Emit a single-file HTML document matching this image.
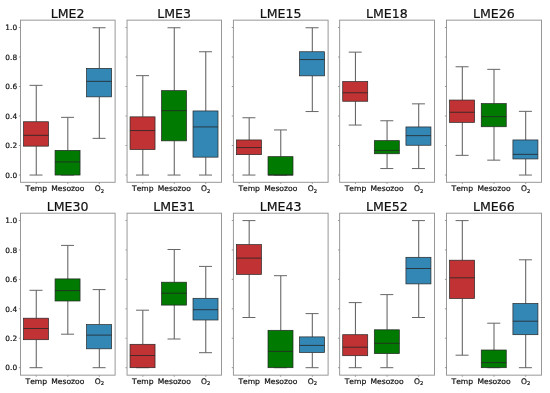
<!DOCTYPE html>
<html lang="en"><head><meta charset="utf-8"><title>LME boxplots</title>
<style>html,body{margin:0;padding:0;background:#fff}svg{display:block}text{font-family:"DejaVu Sans","Liberation Sans",sans-serif;fill:#111;font-kerning:none;stroke:#111;stroke-width:.2px}.t{font-size:12.2px;text-anchor:middle}.l{font-size:7.6px;text-anchor:middle}.y{font-size:7.4px;text-anchor:end}.ax{fill:none;stroke:#939393;stroke-width:.95}.tk{stroke:#555;stroke-width:.6}.w{stroke:#686868;stroke-width:1.1;fill:none}.c{stroke:#666;stroke-width:1;fill:none}.b{stroke:#262626;stroke-width:.7}.m{stroke:#262626;stroke-width:.8}</style></head><body>
<svg width="550" height="393" viewBox="0 0 550 393">
<rect width="550" height="393" fill="#fff"/>
<g>
<path class="w" d="M36.27 85.35V121.75M36.27 146.15V175.05"/><path class="c" d="M29.52 85.35H42.52M29.52 175.05H42.52"/>
<rect class="b" x="23.52" y="121.75" width="25" height="24.4" fill="#c03233"/>
<path class="m" d="M23.52 135.35H48.52"/>
<path class="w" d="M67.8 117.35V150.35M67.8 175.05V175.05"/><path class="c" d="M61.05 117.35H74.05M61.05 175.05H74.05"/>
<rect class="b" x="55.05" y="150.35" width="25" height="24.7" fill="#007a00"/>
<path class="m" d="M55.05 161.95H80.05"/>
<path class="w" d="M99.33 27.75V68.35M99.33 96.85V138.35"/><path class="c" d="M92.58 27.75H105.58M92.58 138.35H105.58"/>
<rect class="b" x="86.58" y="68.35" width="25" height="28.5" fill="#3387b5"/>
<path class="m" d="M86.58 81.35H111.58"/>
<rect class="ax" x="20.5" y="20.15" width="94.6" height="162.15"/>
<path class="tk" d="M18.9 175H20.1"/>
<text class="y" x="17.1" y="177.8">0.0</text>
<path class="tk" d="M18.9 145.5H20.1"/>
<text class="y" x="17.1" y="148.3">0.2</text>
<path class="tk" d="M18.9 116H20.1"/>
<text class="y" x="17.1" y="118.8">0.4</text>
<path class="tk" d="M18.9 86.5H20.1"/>
<text class="y" x="17.1" y="89.3">0.6</text>
<path class="tk" d="M18.9 57H20.1"/>
<text class="y" x="17.1" y="59.8">0.8</text>
<path class="tk" d="M18.9 27.5H20.1"/>
<text class="y" x="17.1" y="30.3">1.0</text>
<path class="tk" d="M36.27 182.7V183.9"/>
<text class="l" x="36.27" y="191.25">Temp</text>
<path class="tk" d="M67.8 182.7V183.9"/>
<text class="l" x="67.8" y="191.25">Mesozoo</text>
<path class="tk" d="M99.33 182.7V183.9"/>
<text class="l" x="99.33" y="191.25">O<tspan dy="1.3" font-size="5.2px">2</tspan></text>
<text class="t" transform="translate(67.6 17.5) scale(1.03 1)">LME2</text>
</g>
<g>
<path class="w" d="M142.79 75.65V116.85M142.79 149.55V175.05"/><path class="c" d="M136.04 75.65H149.04M136.04 175.05H149.04"/>
<rect class="b" x="130.04" y="116.85" width="25" height="32.7" fill="#c03233"/>
<path class="m" d="M130.04 130.55H155.04"/>
<path class="w" d="M174.28 27.75V90.65M174.28 140.85V175.05"/><path class="c" d="M167.53 27.75H180.53M167.53 175.05H180.53"/>
<rect class="b" x="161.53" y="90.65" width="25" height="50.2" fill="#007a00"/>
<path class="m" d="M161.53 110.65H186.53"/>
<path class="w" d="M205.76 51.75V110.95M205.76 157.15V175.05"/><path class="c" d="M199.01 51.75H212.01M199.01 175.05H212.01"/>
<rect class="b" x="193.01" y="110.95" width="25" height="46.2" fill="#3387b5"/>
<path class="m" d="M193.01 126.95H218.01"/>
<rect class="ax" x="127.05" y="20.15" width="94.45" height="162.15"/>
<path class="tk" d="M125.45 175H126.65"/>
<path class="tk" d="M125.45 145.5H126.65"/>
<path class="tk" d="M125.45 116H126.65"/>
<path class="tk" d="M125.45 86.5H126.65"/>
<path class="tk" d="M125.45 57H126.65"/>
<path class="tk" d="M125.45 27.5H126.65"/>
<path class="tk" d="M142.79 182.7V183.9"/>
<text class="l" x="142.79" y="191.25">Temp</text>
<path class="tk" d="M174.28 182.7V183.9"/>
<text class="l" x="174.28" y="191.25">Mesozoo</text>
<path class="tk" d="M205.76 182.7V183.9"/>
<text class="l" x="205.76" y="191.25">O<tspan dy="1.3" font-size="5.2px">2</tspan></text>
<text class="t" transform="translate(174.08 17.5) scale(1.03 1)">LME3</text>
</g>
<g>
<path class="w" d="M249.18 117.75V139.95M249.18 154.65V175.05"/><path class="c" d="M242.43 117.75H255.43M242.43 175.05H255.43"/>
<rect class="b" x="236.43" y="139.95" width="25" height="14.7" fill="#c03233"/>
<path class="m" d="M236.43 147.55H261.43"/>
<path class="w" d="M280.75 129.95V156.65M280.75 175.05V175.05"/><path class="c" d="M274 129.95H287M274 175.05H287"/>
<rect class="b" x="268" y="156.65" width="25" height="18.4" fill="#007a00"/>
<path class="m" d="M268 175.05H293"/>
<path class="w" d="M312.32 27.75V51.75M312.32 75.85V111.55"/><path class="c" d="M305.57 27.75H318.57M305.57 111.55H318.57"/>
<rect class="b" x="299.57" y="51.75" width="25" height="24.1" fill="#3387b5"/>
<path class="m" d="M299.57 59.55H324.57"/>
<rect class="ax" x="233.4" y="20.15" width="94.7" height="162.15"/>
<path class="tk" d="M231.8 175H233"/>
<path class="tk" d="M231.8 145.5H233"/>
<path class="tk" d="M231.8 116H233"/>
<path class="tk" d="M231.8 86.5H233"/>
<path class="tk" d="M231.8 57H233"/>
<path class="tk" d="M231.8 27.5H233"/>
<path class="tk" d="M249.18 182.7V183.9"/>
<text class="l" x="249.18" y="191.25">Temp</text>
<path class="tk" d="M280.75 182.7V183.9"/>
<text class="l" x="280.75" y="191.25">Mesozoo</text>
<path class="tk" d="M312.32 182.7V183.9"/>
<text class="l" x="312.32" y="191.25">O<tspan dy="1.3" font-size="5.2px">2</tspan></text>
<text class="t" transform="translate(280.55 17.5) scale(1.03 1)">LME15</text>
</g>
<g>
<path class="w" d="M355.46 52.15V81.55M355.46 101.25V125.05"/><path class="c" d="M348.71 52.15H361.71M348.71 125.05H361.71"/>
<rect class="b" x="342.71" y="81.55" width="25" height="19.7" fill="#c03233"/>
<path class="m" d="M342.71 92.75H367.71"/>
<path class="w" d="M387.07 120.75V140.65M387.07 153.75V168.55"/><path class="c" d="M380.32 120.75H393.32M380.32 168.55H393.32"/>
<rect class="b" x="374.32" y="140.65" width="25" height="13.1" fill="#007a00"/>
<path class="m" d="M374.32 150.45H399.32"/>
<path class="w" d="M418.69 103.85V126.95M418.69 145.25V168.55"/><path class="c" d="M411.94 103.85H424.94M411.94 168.55H424.94"/>
<rect class="b" x="405.94" y="126.95" width="25" height="18.3" fill="#3387b5"/>
<path class="m" d="M405.94 135.65H430.94"/>
<rect class="ax" x="339.65" y="20.15" width="94.85" height="162.15"/>
<path class="tk" d="M338.05 175H339.25"/>
<path class="tk" d="M338.05 145.5H339.25"/>
<path class="tk" d="M338.05 116H339.25"/>
<path class="tk" d="M338.05 86.5H339.25"/>
<path class="tk" d="M338.05 57H339.25"/>
<path class="tk" d="M338.05 27.5H339.25"/>
<path class="tk" d="M355.46 182.7V183.9"/>
<text class="l" x="355.46" y="191.25">Temp</text>
<path class="tk" d="M387.07 182.7V183.9"/>
<text class="l" x="387.07" y="191.25">Mesozoo</text>
<path class="tk" d="M418.69 182.7V183.9"/>
<text class="l" x="418.69" y="191.25">O<tspan dy="1.3" font-size="5.2px">2</tspan></text>
<text class="t" transform="translate(386.88 17.5) scale(1.03 1)">LME18</text>
</g>
<g>
<path class="w" d="M462.33 66.75V100.05M462.33 122.35V155.35"/><path class="c" d="M455.58 66.75H468.58M455.58 155.35H468.58"/>
<rect class="b" x="449.58" y="100.05" width="25" height="22.3" fill="#c03233"/>
<path class="m" d="M449.58 112.25H474.58"/>
<path class="w" d="M494 69.35V103.55M494 126.75V160.15"/><path class="c" d="M487.25 69.35H500.25M487.25 160.15H500.25"/>
<rect class="b" x="481.25" y="103.55" width="25" height="23.2" fill="#007a00"/>
<path class="m" d="M481.25 116.65H506.25"/>
<path class="w" d="M525.67 111.35V139.95M525.67 158.95V175.05"/><path class="c" d="M518.92 111.35H531.92M518.92 175.05H531.92"/>
<rect class="b" x="512.92" y="139.95" width="25" height="19" fill="#3387b5"/>
<path class="m" d="M512.92 154.35H537.92"/>
<rect class="ax" x="446.5" y="20.15" width="95" height="162.15"/>
<path class="tk" d="M444.9 175H446.1"/>
<path class="tk" d="M444.9 145.5H446.1"/>
<path class="tk" d="M444.9 116H446.1"/>
<path class="tk" d="M444.9 86.5H446.1"/>
<path class="tk" d="M444.9 57H446.1"/>
<path class="tk" d="M444.9 27.5H446.1"/>
<path class="tk" d="M462.33 182.7V183.9"/>
<text class="l" x="462.33" y="191.25">Temp</text>
<path class="tk" d="M494 182.7V183.9"/>
<text class="l" x="494" y="191.25">Mesozoo</text>
<path class="tk" d="M525.67 182.7V183.9"/>
<text class="l" x="525.67" y="191.25">O<tspan dy="1.3" font-size="5.2px">2</tspan></text>
<text class="t" transform="translate(493.8 17.5) scale(1.03 1)">LME26</text>
</g>
<g>
<path class="w" d="M36.27 290.3V318.2M36.27 339.7V367.7"/><path class="c" d="M29.52 290.3H42.52M29.52 367.7H42.52"/>
<rect class="b" x="23.52" y="318.2" width="25" height="21.5" fill="#c03233"/>
<path class="m" d="M23.52 328.5H48.52"/>
<path class="w" d="M67.8 245.4V278.9M67.8 301V334.2"/><path class="c" d="M61.05 245.4H74.05M61.05 334.2H74.05"/>
<rect class="b" x="55.05" y="278.9" width="25" height="22.1" fill="#007a00"/>
<path class="m" d="M55.05 290.6H80.05"/>
<path class="w" d="M99.33 289.6V324.6M99.33 348.8V367.7"/><path class="c" d="M92.58 289.6H105.58M92.58 367.7H105.58"/>
<rect class="b" x="86.58" y="324.6" width="25" height="24.2" fill="#3387b5"/>
<path class="m" d="M86.58 335.1H111.58"/>
<rect class="ax" x="20.5" y="213.2" width="94.6" height="161.95"/>
<path class="tk" d="M18.9 367.65H20.1"/>
<text class="y" x="17.1" y="370.45">0.0</text>
<path class="tk" d="M18.9 338.22H20.1"/>
<text class="y" x="17.1" y="341.02">0.2</text>
<path class="tk" d="M18.9 308.79H20.1"/>
<text class="y" x="17.1" y="311.59">0.4</text>
<path class="tk" d="M18.9 279.36H20.1"/>
<text class="y" x="17.1" y="282.16">0.6</text>
<path class="tk" d="M18.9 249.93H20.1"/>
<text class="y" x="17.1" y="252.73">0.8</text>
<path class="tk" d="M18.9 220.5H20.1"/>
<text class="y" x="17.1" y="223.3">1.0</text>
<path class="tk" d="M36.27 375.55V376.75"/>
<text class="l" x="36.27" y="384.1">Temp</text>
<path class="tk" d="M67.8 375.55V376.75"/>
<text class="l" x="67.8" y="384.1">Mesozoo</text>
<path class="tk" d="M99.33 375.55V376.75"/>
<text class="l" x="99.33" y="384.1">O<tspan dy="1.3" font-size="5.2px">2</tspan></text>
<text class="t" transform="translate(67.6 210.55) scale(1.03 1)">LME30</text>
</g>
<g>
<path class="w" d="M142.79 310.2V344.3M142.79 367.7V367.7"/><path class="c" d="M136.04 310.2H149.04M136.04 367.7H149.04"/>
<rect class="b" x="130.04" y="344.3" width="25" height="23.4" fill="#c03233"/>
<path class="m" d="M130.04 355.5H155.04"/>
<path class="w" d="M174.28 249.5V282.2M174.28 305.1V339"/><path class="c" d="M167.53 249.5H180.53M167.53 339H180.53"/>
<rect class="b" x="161.53" y="282.2" width="25" height="22.9" fill="#007a00"/>
<path class="m" d="M161.53 293.2H186.53"/>
<path class="w" d="M205.76 266.4V298.3M205.76 320V352.7"/><path class="c" d="M199.01 266.4H212.01M199.01 352.7H212.01"/>
<rect class="b" x="193.01" y="298.3" width="25" height="21.7" fill="#3387b5"/>
<path class="m" d="M193.01 309.7H218.01"/>
<rect class="ax" x="127.05" y="213.2" width="94.45" height="161.95"/>
<path class="tk" d="M125.45 367.65H126.65"/>
<path class="tk" d="M125.45 338.22H126.65"/>
<path class="tk" d="M125.45 308.79H126.65"/>
<path class="tk" d="M125.45 279.36H126.65"/>
<path class="tk" d="M125.45 249.93H126.65"/>
<path class="tk" d="M125.45 220.5H126.65"/>
<path class="tk" d="M142.79 375.55V376.75"/>
<text class="l" x="142.79" y="384.1">Temp</text>
<path class="tk" d="M174.28 375.55V376.75"/>
<text class="l" x="174.28" y="384.1">Mesozoo</text>
<path class="tk" d="M205.76 375.55V376.75"/>
<text class="l" x="205.76" y="384.1">O<tspan dy="1.3" font-size="5.2px">2</tspan></text>
<text class="t" transform="translate(174.08 210.55) scale(1.03 1)">LME31</text>
</g>
<g>
<path class="w" d="M249.18 220.6V244.6M249.18 274.4V317.5"/><path class="c" d="M242.43 220.6H255.43M242.43 317.5H255.43"/>
<rect class="b" x="236.43" y="244.6" width="25" height="29.8" fill="#c03233"/>
<path class="m" d="M236.43 258.1H261.43"/>
<path class="w" d="M280.75 275.7V330.3M280.75 367.7V367.7"/><path class="c" d="M274 275.7H287M274 367.7H287"/>
<rect class="b" x="268" y="330.3" width="25" height="37.4" fill="#007a00"/>
<path class="m" d="M268 351.4H293"/>
<path class="w" d="M312.32 313.6V336.9M312.32 352.5V367.7"/><path class="c" d="M305.57 313.6H318.57M305.57 367.7H318.57"/>
<rect class="b" x="299.57" y="336.9" width="25" height="15.6" fill="#3387b5"/>
<path class="m" d="M299.57 345.4H324.57"/>
<rect class="ax" x="233.4" y="213.2" width="94.7" height="161.95"/>
<path class="tk" d="M231.8 367.65H233"/>
<path class="tk" d="M231.8 338.22H233"/>
<path class="tk" d="M231.8 308.79H233"/>
<path class="tk" d="M231.8 279.36H233"/>
<path class="tk" d="M231.8 249.93H233"/>
<path class="tk" d="M231.8 220.5H233"/>
<path class="tk" d="M249.18 375.55V376.75"/>
<text class="l" x="249.18" y="384.1">Temp</text>
<path class="tk" d="M280.75 375.55V376.75"/>
<text class="l" x="280.75" y="384.1">Mesozoo</text>
<path class="tk" d="M312.32 375.55V376.75"/>
<text class="l" x="312.32" y="384.1">O<tspan dy="1.3" font-size="5.2px">2</tspan></text>
<text class="t" transform="translate(280.55 210.55) scale(1.03 1)">LME43</text>
</g>
<g>
<path class="w" d="M355.46 302.6V334.7M355.46 355.7V367.7"/><path class="c" d="M348.71 302.6H361.71M348.71 367.7H361.71"/>
<rect class="b" x="342.71" y="334.7" width="25" height="21" fill="#c03233"/>
<path class="m" d="M342.71 347.2H367.71"/>
<path class="w" d="M387.07 294.6V329.8M387.07 353.6V367.7"/><path class="c" d="M380.32 294.6H393.32M380.32 367.7H393.32"/>
<rect class="b" x="374.32" y="329.8" width="25" height="23.8" fill="#007a00"/>
<path class="m" d="M374.32 343.3H399.32"/>
<path class="w" d="M418.69 220.6V257.3M418.69 283.9V317.5"/><path class="c" d="M411.94 220.6H424.94M411.94 317.5H424.94"/>
<rect class="b" x="405.94" y="257.3" width="25" height="26.6" fill="#3387b5"/>
<path class="m" d="M405.94 268.5H430.94"/>
<rect class="ax" x="339.65" y="213.2" width="94.85" height="161.95"/>
<path class="tk" d="M338.05 367.65H339.25"/>
<path class="tk" d="M338.05 338.22H339.25"/>
<path class="tk" d="M338.05 308.79H339.25"/>
<path class="tk" d="M338.05 279.36H339.25"/>
<path class="tk" d="M338.05 249.93H339.25"/>
<path class="tk" d="M338.05 220.5H339.25"/>
<path class="tk" d="M355.46 375.55V376.75"/>
<text class="l" x="355.46" y="384.1">Temp</text>
<path class="tk" d="M387.07 375.55V376.75"/>
<text class="l" x="387.07" y="384.1">Mesozoo</text>
<path class="tk" d="M418.69 375.55V376.75"/>
<text class="l" x="418.69" y="384.1">O<tspan dy="1.3" font-size="5.2px">2</tspan></text>
<text class="t" transform="translate(386.88 210.55) scale(1.03 1)">LME52</text>
</g>
<g>
<path class="w" d="M462.33 220.6V260.2M462.33 298.5V355.2"/><path class="c" d="M455.58 220.6H468.58M455.58 355.2H468.58"/>
<rect class="b" x="449.58" y="260.2" width="25" height="38.3" fill="#c03233"/>
<path class="m" d="M449.58 277.8H474.58"/>
<path class="w" d="M494 323.2V350M494 367.7V367.7"/><path class="c" d="M487.25 323.2H500.25M487.25 367.7H500.25"/>
<rect class="b" x="481.25" y="350" width="25" height="17.7" fill="#007a00"/>
<path class="m" d="M481.25 362.6H506.25"/>
<path class="w" d="M525.67 259.8V303.5M525.67 334.7V367.7"/><path class="c" d="M518.92 259.8H531.92M518.92 367.7H531.92"/>
<rect class="b" x="512.92" y="303.5" width="25" height="31.2" fill="#3387b5"/>
<path class="m" d="M512.92 321.2H537.92"/>
<rect class="ax" x="446.5" y="213.2" width="95" height="161.95"/>
<path class="tk" d="M444.9 367.65H446.1"/>
<path class="tk" d="M444.9 338.22H446.1"/>
<path class="tk" d="M444.9 308.79H446.1"/>
<path class="tk" d="M444.9 279.36H446.1"/>
<path class="tk" d="M444.9 249.93H446.1"/>
<path class="tk" d="M444.9 220.5H446.1"/>
<path class="tk" d="M462.33 375.55V376.75"/>
<text class="l" x="462.33" y="384.1">Temp</text>
<path class="tk" d="M494 375.55V376.75"/>
<text class="l" x="494" y="384.1">Mesozoo</text>
<path class="tk" d="M525.67 375.55V376.75"/>
<text class="l" x="525.67" y="384.1">O<tspan dy="1.3" font-size="5.2px">2</tspan></text>
<text class="t" transform="translate(493.8 210.55) scale(1.03 1)">LME66</text>
</g>
</svg></body></html>
